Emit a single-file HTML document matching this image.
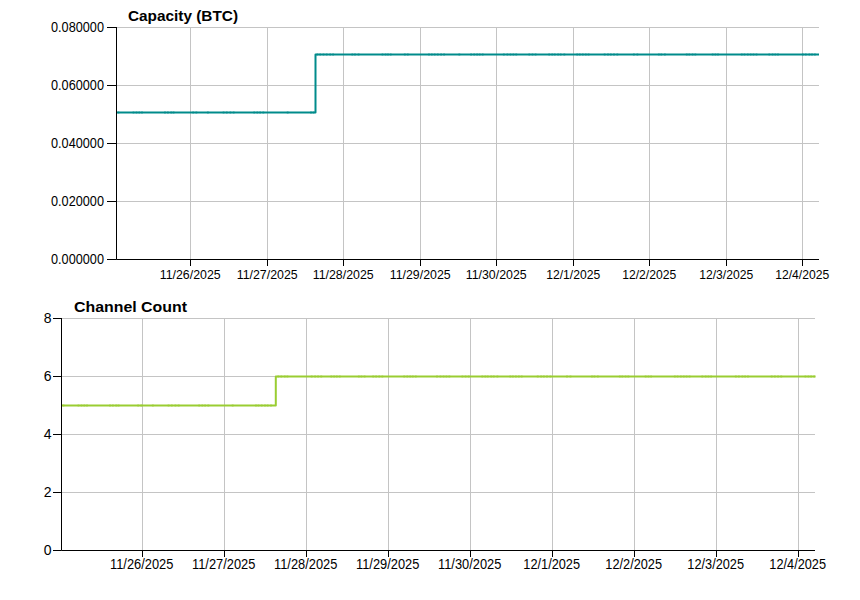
<!DOCTYPE html>
<html><head><meta charset="utf-8"><style>
html,body{margin:0;padding:0;background:#fff;width:860px;height:600px;overflow:hidden}
svg{display:block}
.t{font-family:"Liberation Sans", sans-serif;font-size:13px;fill:#000}
.ty{font-family:"Liberation Sans", sans-serif;font-size:14px;fill:#000}
.h{font-family:"Liberation Sans", sans-serif;font-size:15.5px;font-weight:bold;fill:#000}
</style></head><body>
<svg width="860" height="600" viewBox="0 0 860 600">
<g shape-rendering="crispEdges">
</g>
<path d="M117,27.5H819M117,85.5H819M117,143.5H819M117,201.5H819M190.5,27V259M267.5,27V259M343.5,27V259M420.5,27V259M496.5,27V259M573.5,27V259M649.5,27V259M726.5,27V259M802.5,27V259" stroke="#c4c4c4" stroke-width="1" fill="none"/>
<path d="M116.5,27V259.5H819M107,27.5H116.5M107,85.5H116.5M107,143.5H116.5M107,201.5H116.5M107,259.5H116.5M190.5,260V266M267.5,260V266M343.5,260V266M420.5,260V266M496.5,260V266M573.5,260V266M649.5,260V266M726.5,260V266M802.5,260V266" stroke="#000" stroke-width="1" fill="none"/>
<text x="104" y="32" text-anchor="end" class="ty" textLength="53" lengthAdjust="spacingAndGlyphs">0.080000</text>
<text x="104" y="90" text-anchor="end" class="ty" textLength="53" lengthAdjust="spacingAndGlyphs">0.060000</text>
<text x="104" y="148" text-anchor="end" class="ty" textLength="53" lengthAdjust="spacingAndGlyphs">0.040000</text>
<text x="104" y="206" text-anchor="end" class="ty" textLength="53" lengthAdjust="spacingAndGlyphs">0.020000</text>
<text x="104" y="264" text-anchor="end" class="ty" textLength="53" lengthAdjust="spacingAndGlyphs">0.000000</text>
<text x="190.2" y="279" text-anchor="middle" class="t" style="font-size:13px" textLength="60.9" lengthAdjust="spacingAndGlyphs">11/26/2025</text>
<text x="267.2" y="279" text-anchor="middle" class="t" style="font-size:13px" textLength="60.9" lengthAdjust="spacingAndGlyphs">11/27/2025</text>
<text x="343.2" y="279" text-anchor="middle" class="t" style="font-size:13px" textLength="60.9" lengthAdjust="spacingAndGlyphs">11/28/2025</text>
<text x="420.2" y="279" text-anchor="middle" class="t" style="font-size:13px" textLength="60.9" lengthAdjust="spacingAndGlyphs">11/29/2025</text>
<text x="496.2" y="279" text-anchor="middle" class="t" style="font-size:13px" textLength="60.9" lengthAdjust="spacingAndGlyphs">11/30/2025</text>
<text x="573.2" y="279" text-anchor="middle" class="t" style="font-size:13px" textLength="54.0" lengthAdjust="spacingAndGlyphs">12/1/2025</text>
<text x="649.2" y="279" text-anchor="middle" class="t" style="font-size:13px" textLength="54.0" lengthAdjust="spacingAndGlyphs">12/2/2025</text>
<text x="726.2" y="279" text-anchor="middle" class="t" style="font-size:13px" textLength="54.0" lengthAdjust="spacingAndGlyphs">12/3/2025</text>
<text x="802.2" y="279" text-anchor="middle" class="t" style="font-size:13px" textLength="54.0" lengthAdjust="spacingAndGlyphs">12/4/2025</text>
<text x="128" y="21" class="h" textLength="110" lengthAdjust="spacingAndGlyphs">Capacity (BTC)</text>
<path d="M117,112.5 L315.5,112.5 L315.5,54.5 L819,54.5" stroke="#008b8b" stroke-width="2" fill="none" stroke-linejoin="round"/>
<path d="M117.2,112.5a1.2,1.2 0 1,0 2.4,0a1.2,1.2 0 1,0 -2.4,0M132.3,112.5a1.2,1.2 0 1,0 2.4,0a1.2,1.2 0 1,0 -2.4,0M135.3,112.5a1.2,1.2 0 1,0 2.4,0a1.2,1.2 0 1,0 -2.4,0M138.1,112.5a1.2,1.2 0 1,0 2.4,0a1.2,1.2 0 1,0 -2.4,0M140.8,112.5a1.2,1.2 0 1,0 2.4,0a1.2,1.2 0 1,0 -2.4,0M163.8,112.5a1.2,1.2 0 1,0 2.4,0a1.2,1.2 0 1,0 -2.4,0M166.7,112.5a1.2,1.2 0 1,0 2.4,0a1.2,1.2 0 1,0 -2.4,0M170.0,112.5a1.2,1.2 0 1,0 2.4,0a1.2,1.2 0 1,0 -2.4,0M172.4,112.5a1.2,1.2 0 1,0 2.4,0a1.2,1.2 0 1,0 -2.4,0M192.0,112.5a1.2,1.2 0 1,0 2.4,0a1.2,1.2 0 1,0 -2.4,0M195.1,112.5a1.2,1.2 0 1,0 2.4,0a1.2,1.2 0 1,0 -2.4,0M206.7,112.5a1.2,1.2 0 1,0 2.4,0a1.2,1.2 0 1,0 -2.4,0M222.4,112.5a1.2,1.2 0 1,0 2.4,0a1.2,1.2 0 1,0 -2.4,0M225.6,112.5a1.2,1.2 0 1,0 2.4,0a1.2,1.2 0 1,0 -2.4,0M229.2,112.5a1.2,1.2 0 1,0 2.4,0a1.2,1.2 0 1,0 -2.4,0M232.5,112.5a1.2,1.2 0 1,0 2.4,0a1.2,1.2 0 1,0 -2.4,0M253.0,112.5a1.2,1.2 0 1,0 2.4,0a1.2,1.2 0 1,0 -2.4,0M256.1,112.5a1.2,1.2 0 1,0 2.4,0a1.2,1.2 0 1,0 -2.4,0M258.9,112.5a1.2,1.2 0 1,0 2.4,0a1.2,1.2 0 1,0 -2.4,0M262.1,112.5a1.2,1.2 0 1,0 2.4,0a1.2,1.2 0 1,0 -2.4,0M286.5,112.5a1.2,1.2 0 1,0 2.4,0a1.2,1.2 0 1,0 -2.4,0M309.8,112.5a1.2,1.2 0 1,0 2.4,0a1.2,1.2 0 1,0 -2.4,0M312.3,112.5a1.2,1.2 0 1,0 2.4,0a1.2,1.2 0 1,0 -2.4,0M316.2,54.5a1.2,1.2 0 1,0 2.4,0a1.2,1.2 0 1,0 -2.4,0M319.0,54.5a1.2,1.2 0 1,0 2.4,0a1.2,1.2 0 1,0 -2.4,0M322.3,54.5a1.2,1.2 0 1,0 2.4,0a1.2,1.2 0 1,0 -2.4,0M325.5,54.5a1.2,1.2 0 1,0 2.4,0a1.2,1.2 0 1,0 -2.4,0M329.0,54.5a1.2,1.2 0 1,0 2.4,0a1.2,1.2 0 1,0 -2.4,0M331.9,54.5a1.2,1.2 0 1,0 2.4,0a1.2,1.2 0 1,0 -2.4,0M351.1,54.5a1.2,1.2 0 1,0 2.4,0a1.2,1.2 0 1,0 -2.4,0M353.8,54.5a1.2,1.2 0 1,0 2.4,0a1.2,1.2 0 1,0 -2.4,0M357.4,54.5a1.2,1.2 0 1,0 2.4,0a1.2,1.2 0 1,0 -2.4,0M381.3,54.5a1.2,1.2 0 1,0 2.4,0a1.2,1.2 0 1,0 -2.4,0M384.4,54.5a1.2,1.2 0 1,0 2.4,0a1.2,1.2 0 1,0 -2.4,0M386.8,54.5a1.2,1.2 0 1,0 2.4,0a1.2,1.2 0 1,0 -2.4,0M389.5,54.5a1.2,1.2 0 1,0 2.4,0a1.2,1.2 0 1,0 -2.4,0M403.7,54.5a1.2,1.2 0 1,0 2.4,0a1.2,1.2 0 1,0 -2.4,0M406.6,54.5a1.2,1.2 0 1,0 2.4,0a1.2,1.2 0 1,0 -2.4,0M427.8,54.5a1.2,1.2 0 1,0 2.4,0a1.2,1.2 0 1,0 -2.4,0M430.6,54.5a1.2,1.2 0 1,0 2.4,0a1.2,1.2 0 1,0 -2.4,0M433.5,54.5a1.2,1.2 0 1,0 2.4,0a1.2,1.2 0 1,0 -2.4,0M436.6,54.5a1.2,1.2 0 1,0 2.4,0a1.2,1.2 0 1,0 -2.4,0M439.9,54.5a1.2,1.2 0 1,0 2.4,0a1.2,1.2 0 1,0 -2.4,0M442.9,54.5a1.2,1.2 0 1,0 2.4,0a1.2,1.2 0 1,0 -2.4,0M458.1,54.5a1.2,1.2 0 1,0 2.4,0a1.2,1.2 0 1,0 -2.4,0M469.9,54.5a1.2,1.2 0 1,0 2.4,0a1.2,1.2 0 1,0 -2.4,0M473.0,54.5a1.2,1.2 0 1,0 2.4,0a1.2,1.2 0 1,0 -2.4,0M475.9,54.5a1.2,1.2 0 1,0 2.4,0a1.2,1.2 0 1,0 -2.4,0M478.5,54.5a1.2,1.2 0 1,0 2.4,0a1.2,1.2 0 1,0 -2.4,0M481.5,54.5a1.2,1.2 0 1,0 2.4,0a1.2,1.2 0 1,0 -2.4,0M502.7,54.5a1.2,1.2 0 1,0 2.4,0a1.2,1.2 0 1,0 -2.4,0M506.2,54.5a1.2,1.2 0 1,0 2.4,0a1.2,1.2 0 1,0 -2.4,0M509.3,54.5a1.2,1.2 0 1,0 2.4,0a1.2,1.2 0 1,0 -2.4,0M512.2,54.5a1.2,1.2 0 1,0 2.4,0a1.2,1.2 0 1,0 -2.4,0M515.0,54.5a1.2,1.2 0 1,0 2.4,0a1.2,1.2 0 1,0 -2.4,0M528.1,54.5a1.2,1.2 0 1,0 2.4,0a1.2,1.2 0 1,0 -2.4,0M531.3,54.5a1.2,1.2 0 1,0 2.4,0a1.2,1.2 0 1,0 -2.4,0M534.4,54.5a1.2,1.2 0 1,0 2.4,0a1.2,1.2 0 1,0 -2.4,0M548.0,54.5a1.2,1.2 0 1,0 2.4,0a1.2,1.2 0 1,0 -2.4,0M551.0,54.5a1.2,1.2 0 1,0 2.4,0a1.2,1.2 0 1,0 -2.4,0M553.6,54.5a1.2,1.2 0 1,0 2.4,0a1.2,1.2 0 1,0 -2.4,0M556.9,54.5a1.2,1.2 0 1,0 2.4,0a1.2,1.2 0 1,0 -2.4,0M559.5,54.5a1.2,1.2 0 1,0 2.4,0a1.2,1.2 0 1,0 -2.4,0M563.1,54.5a1.2,1.2 0 1,0 2.4,0a1.2,1.2 0 1,0 -2.4,0M576.0,54.5a1.2,1.2 0 1,0 2.4,0a1.2,1.2 0 1,0 -2.4,0M578.6,54.5a1.2,1.2 0 1,0 2.4,0a1.2,1.2 0 1,0 -2.4,0M581.6,54.5a1.2,1.2 0 1,0 2.4,0a1.2,1.2 0 1,0 -2.4,0M584.6,54.5a1.2,1.2 0 1,0 2.4,0a1.2,1.2 0 1,0 -2.4,0M587.4,54.5a1.2,1.2 0 1,0 2.4,0a1.2,1.2 0 1,0 -2.4,0M603.5,54.5a1.2,1.2 0 1,0 2.4,0a1.2,1.2 0 1,0 -2.4,0M606.8,54.5a1.2,1.2 0 1,0 2.4,0a1.2,1.2 0 1,0 -2.4,0M609.6,54.5a1.2,1.2 0 1,0 2.4,0a1.2,1.2 0 1,0 -2.4,0M612.8,54.5a1.2,1.2 0 1,0 2.4,0a1.2,1.2 0 1,0 -2.4,0M616.1,54.5a1.2,1.2 0 1,0 2.4,0a1.2,1.2 0 1,0 -2.4,0M632.7,54.5a1.2,1.2 0 1,0 2.4,0a1.2,1.2 0 1,0 -2.4,0M636.2,54.5a1.2,1.2 0 1,0 2.4,0a1.2,1.2 0 1,0 -2.4,0M657.7,54.5a1.2,1.2 0 1,0 2.4,0a1.2,1.2 0 1,0 -2.4,0M660.1,54.5a1.2,1.2 0 1,0 2.4,0a1.2,1.2 0 1,0 -2.4,0M663.7,54.5a1.2,1.2 0 1,0 2.4,0a1.2,1.2 0 1,0 -2.4,0M685.6,54.5a1.2,1.2 0 1,0 2.4,0a1.2,1.2 0 1,0 -2.4,0M688.1,54.5a1.2,1.2 0 1,0 2.4,0a1.2,1.2 0 1,0 -2.4,0M691.4,54.5a1.2,1.2 0 1,0 2.4,0a1.2,1.2 0 1,0 -2.4,0M694.1,54.5a1.2,1.2 0 1,0 2.4,0a1.2,1.2 0 1,0 -2.4,0M711.5,54.5a1.2,1.2 0 1,0 2.4,0a1.2,1.2 0 1,0 -2.4,0M714.2,54.5a1.2,1.2 0 1,0 2.4,0a1.2,1.2 0 1,0 -2.4,0M716.8,54.5a1.2,1.2 0 1,0 2.4,0a1.2,1.2 0 1,0 -2.4,0M740.6,54.5a1.2,1.2 0 1,0 2.4,0a1.2,1.2 0 1,0 -2.4,0M743.3,54.5a1.2,1.2 0 1,0 2.4,0a1.2,1.2 0 1,0 -2.4,0M746.6,54.5a1.2,1.2 0 1,0 2.4,0a1.2,1.2 0 1,0 -2.4,0M749.5,54.5a1.2,1.2 0 1,0 2.4,0a1.2,1.2 0 1,0 -2.4,0M752.3,54.5a1.2,1.2 0 1,0 2.4,0a1.2,1.2 0 1,0 -2.4,0M755.3,54.5a1.2,1.2 0 1,0 2.4,0a1.2,1.2 0 1,0 -2.4,0M768.1,54.5a1.2,1.2 0 1,0 2.4,0a1.2,1.2 0 1,0 -2.4,0M771.4,54.5a1.2,1.2 0 1,0 2.4,0a1.2,1.2 0 1,0 -2.4,0M774.1,54.5a1.2,1.2 0 1,0 2.4,0a1.2,1.2 0 1,0 -2.4,0M776.8,54.5a1.2,1.2 0 1,0 2.4,0a1.2,1.2 0 1,0 -2.4,0M801.7,54.5a1.2,1.2 0 1,0 2.4,0a1.2,1.2 0 1,0 -2.4,0M804.6,54.5a1.2,1.2 0 1,0 2.4,0a1.2,1.2 0 1,0 -2.4,0M808.2,54.5a1.2,1.2 0 1,0 2.4,0a1.2,1.2 0 1,0 -2.4,0M810.8,54.5a1.2,1.2 0 1,0 2.4,0a1.2,1.2 0 1,0 -2.4,0M813.7,54.5a1.2,1.2 0 1,0 2.4,0a1.2,1.2 0 1,0 -2.4,0" fill="#008b8b" fill-opacity="0.5"/>
<path d="M62,318.5H815M62,376.5H815M62,434.5H815M62,492.5H815M142.5,318V550M224.5,318V550M306.5,318V550M388.5,318V550M470.5,318V550M552.5,318V550M634.5,318V550M716.5,318V550M798.5,318V550" stroke="#c4c4c4" stroke-width="1" fill="none"/>
<path d="M61.5,318V550.5H815M53,318.5H61.5M53,376.5H61.5M53,434.5H61.5M53,492.5H61.5M53,550.5H61.5M142.5,551V557M224.5,551V557M306.5,551V557M388.5,551V557M470.5,551V557M552.5,551V557M634.5,551V557M716.5,551V557M798.5,551V557" stroke="#000" stroke-width="1" fill="none"/>
<text x="51.5" y="323" text-anchor="end" class="ty">8</text>
<text x="51.5" y="381" text-anchor="end" class="ty">6</text>
<text x="51.5" y="439" text-anchor="end" class="ty">4</text>
<text x="51.5" y="497" text-anchor="end" class="ty">2</text>
<text x="51.5" y="555" text-anchor="end" class="ty">0</text>
<text x="141.7" y="568.8" text-anchor="middle" class="t" style="font-size:14px" textLength="63.3" lengthAdjust="spacingAndGlyphs">11/26/2025</text>
<text x="223.7" y="568.8" text-anchor="middle" class="t" style="font-size:14px" textLength="63.3" lengthAdjust="spacingAndGlyphs">11/27/2025</text>
<text x="305.7" y="568.8" text-anchor="middle" class="t" style="font-size:14px" textLength="63.3" lengthAdjust="spacingAndGlyphs">11/28/2025</text>
<text x="387.7" y="568.8" text-anchor="middle" class="t" style="font-size:14px" textLength="63.3" lengthAdjust="spacingAndGlyphs">11/29/2025</text>
<text x="469.7" y="568.8" text-anchor="middle" class="t" style="font-size:14px" textLength="63.3" lengthAdjust="spacingAndGlyphs">11/30/2025</text>
<text x="551.7" y="568.8" text-anchor="middle" class="t" style="font-size:14px" textLength="56.7" lengthAdjust="spacingAndGlyphs">12/1/2025</text>
<text x="633.7" y="568.8" text-anchor="middle" class="t" style="font-size:14px" textLength="56.7" lengthAdjust="spacingAndGlyphs">12/2/2025</text>
<text x="715.7" y="568.8" text-anchor="middle" class="t" style="font-size:14px" textLength="56.7" lengthAdjust="spacingAndGlyphs">12/3/2025</text>
<text x="797.7" y="568.8" text-anchor="middle" class="t" style="font-size:14px" textLength="56.7" lengthAdjust="spacingAndGlyphs">12/4/2025</text>
<text x="74" y="312" class="h" textLength="113" lengthAdjust="spacingAndGlyphs">Channel Count</text>
<path d="M62,405.5 L275.8,405.5 L275.8,376.5 L815.5,376.5" stroke="#9acd32" stroke-width="2" fill="none" stroke-linejoin="round"/>
<path d="M62.2,405.5a1.2,1.2 0 1,0 2.4,0a1.2,1.2 0 1,0 -2.4,0M77.3,405.5a1.2,1.2 0 1,0 2.4,0a1.2,1.2 0 1,0 -2.4,0M80.3,405.5a1.2,1.2 0 1,0 2.4,0a1.2,1.2 0 1,0 -2.4,0M83.1,405.5a1.2,1.2 0 1,0 2.4,0a1.2,1.2 0 1,0 -2.4,0M85.8,405.5a1.2,1.2 0 1,0 2.4,0a1.2,1.2 0 1,0 -2.4,0M108.8,405.5a1.2,1.2 0 1,0 2.4,0a1.2,1.2 0 1,0 -2.4,0M111.7,405.5a1.2,1.2 0 1,0 2.4,0a1.2,1.2 0 1,0 -2.4,0M115.0,405.5a1.2,1.2 0 1,0 2.4,0a1.2,1.2 0 1,0 -2.4,0M117.4,405.5a1.2,1.2 0 1,0 2.4,0a1.2,1.2 0 1,0 -2.4,0M137.0,405.5a1.2,1.2 0 1,0 2.4,0a1.2,1.2 0 1,0 -2.4,0M140.1,405.5a1.2,1.2 0 1,0 2.4,0a1.2,1.2 0 1,0 -2.4,0M151.7,405.5a1.2,1.2 0 1,0 2.4,0a1.2,1.2 0 1,0 -2.4,0M167.4,405.5a1.2,1.2 0 1,0 2.4,0a1.2,1.2 0 1,0 -2.4,0M170.6,405.5a1.2,1.2 0 1,0 2.4,0a1.2,1.2 0 1,0 -2.4,0M174.2,405.5a1.2,1.2 0 1,0 2.4,0a1.2,1.2 0 1,0 -2.4,0M177.5,405.5a1.2,1.2 0 1,0 2.4,0a1.2,1.2 0 1,0 -2.4,0M198.0,405.5a1.2,1.2 0 1,0 2.4,0a1.2,1.2 0 1,0 -2.4,0M201.1,405.5a1.2,1.2 0 1,0 2.4,0a1.2,1.2 0 1,0 -2.4,0M203.9,405.5a1.2,1.2 0 1,0 2.4,0a1.2,1.2 0 1,0 -2.4,0M207.1,405.5a1.2,1.2 0 1,0 2.4,0a1.2,1.2 0 1,0 -2.4,0M231.5,405.5a1.2,1.2 0 1,0 2.4,0a1.2,1.2 0 1,0 -2.4,0M254.8,405.5a1.2,1.2 0 1,0 2.4,0a1.2,1.2 0 1,0 -2.4,0M257.3,405.5a1.2,1.2 0 1,0 2.4,0a1.2,1.2 0 1,0 -2.4,0M260.5,405.5a1.2,1.2 0 1,0 2.4,0a1.2,1.2 0 1,0 -2.4,0M263.8,405.5a1.2,1.2 0 1,0 2.4,0a1.2,1.2 0 1,0 -2.4,0M266.5,405.5a1.2,1.2 0 1,0 2.4,0a1.2,1.2 0 1,0 -2.4,0M269.8,405.5a1.2,1.2 0 1,0 2.4,0a1.2,1.2 0 1,0 -2.4,0M277.1,376.5a1.2,1.2 0 1,0 2.4,0a1.2,1.2 0 1,0 -2.4,0M280.1,376.5a1.2,1.2 0 1,0 2.4,0a1.2,1.2 0 1,0 -2.4,0M283.6,376.5a1.2,1.2 0 1,0 2.4,0a1.2,1.2 0 1,0 -2.4,0M286.2,376.5a1.2,1.2 0 1,0 2.4,0a1.2,1.2 0 1,0 -2.4,0M310.5,376.5a1.2,1.2 0 1,0 2.4,0a1.2,1.2 0 1,0 -2.4,0M313.9,376.5a1.2,1.2 0 1,0 2.4,0a1.2,1.2 0 1,0 -2.4,0M316.9,376.5a1.2,1.2 0 1,0 2.4,0a1.2,1.2 0 1,0 -2.4,0M320.0,376.5a1.2,1.2 0 1,0 2.4,0a1.2,1.2 0 1,0 -2.4,0M330.1,376.5a1.2,1.2 0 1,0 2.4,0a1.2,1.2 0 1,0 -2.4,0M332.9,376.5a1.2,1.2 0 1,0 2.4,0a1.2,1.2 0 1,0 -2.4,0M335.6,376.5a1.2,1.2 0 1,0 2.4,0a1.2,1.2 0 1,0 -2.4,0M338.6,376.5a1.2,1.2 0 1,0 2.4,0a1.2,1.2 0 1,0 -2.4,0M357.7,376.5a1.2,1.2 0 1,0 2.4,0a1.2,1.2 0 1,0 -2.4,0M360.2,376.5a1.2,1.2 0 1,0 2.4,0a1.2,1.2 0 1,0 -2.4,0M363.4,376.5a1.2,1.2 0 1,0 2.4,0a1.2,1.2 0 1,0 -2.4,0M372.0,376.5a1.2,1.2 0 1,0 2.4,0a1.2,1.2 0 1,0 -2.4,0M374.9,376.5a1.2,1.2 0 1,0 2.4,0a1.2,1.2 0 1,0 -2.4,0M378.1,376.5a1.2,1.2 0 1,0 2.4,0a1.2,1.2 0 1,0 -2.4,0M381.1,376.5a1.2,1.2 0 1,0 2.4,0a1.2,1.2 0 1,0 -2.4,0M403.0,376.5a1.2,1.2 0 1,0 2.4,0a1.2,1.2 0 1,0 -2.4,0M406.1,376.5a1.2,1.2 0 1,0 2.4,0a1.2,1.2 0 1,0 -2.4,0M409.0,376.5a1.2,1.2 0 1,0 2.4,0a1.2,1.2 0 1,0 -2.4,0M411.6,376.5a1.2,1.2 0 1,0 2.4,0a1.2,1.2 0 1,0 -2.4,0M414.6,376.5a1.2,1.2 0 1,0 2.4,0a1.2,1.2 0 1,0 -2.4,0M435.8,376.5a1.2,1.2 0 1,0 2.4,0a1.2,1.2 0 1,0 -2.4,0M439.3,376.5a1.2,1.2 0 1,0 2.4,0a1.2,1.2 0 1,0 -2.4,0M442.4,376.5a1.2,1.2 0 1,0 2.4,0a1.2,1.2 0 1,0 -2.4,0M445.2,376.5a1.2,1.2 0 1,0 2.4,0a1.2,1.2 0 1,0 -2.4,0M448.1,376.5a1.2,1.2 0 1,0 2.4,0a1.2,1.2 0 1,0 -2.4,0M461.2,376.5a1.2,1.2 0 1,0 2.4,0a1.2,1.2 0 1,0 -2.4,0M464.4,376.5a1.2,1.2 0 1,0 2.4,0a1.2,1.2 0 1,0 -2.4,0M467.5,376.5a1.2,1.2 0 1,0 2.4,0a1.2,1.2 0 1,0 -2.4,0M481.1,376.5a1.2,1.2 0 1,0 2.4,0a1.2,1.2 0 1,0 -2.4,0M484.1,376.5a1.2,1.2 0 1,0 2.4,0a1.2,1.2 0 1,0 -2.4,0M486.6,376.5a1.2,1.2 0 1,0 2.4,0a1.2,1.2 0 1,0 -2.4,0M490.0,376.5a1.2,1.2 0 1,0 2.4,0a1.2,1.2 0 1,0 -2.4,0M492.6,376.5a1.2,1.2 0 1,0 2.4,0a1.2,1.2 0 1,0 -2.4,0M496.2,376.5a1.2,1.2 0 1,0 2.4,0a1.2,1.2 0 1,0 -2.4,0M509.1,376.5a1.2,1.2 0 1,0 2.4,0a1.2,1.2 0 1,0 -2.4,0M511.7,376.5a1.2,1.2 0 1,0 2.4,0a1.2,1.2 0 1,0 -2.4,0M514.7,376.5a1.2,1.2 0 1,0 2.4,0a1.2,1.2 0 1,0 -2.4,0M517.7,376.5a1.2,1.2 0 1,0 2.4,0a1.2,1.2 0 1,0 -2.4,0M520.5,376.5a1.2,1.2 0 1,0 2.4,0a1.2,1.2 0 1,0 -2.4,0M536.6,376.5a1.2,1.2 0 1,0 2.4,0a1.2,1.2 0 1,0 -2.4,0M539.9,376.5a1.2,1.2 0 1,0 2.4,0a1.2,1.2 0 1,0 -2.4,0M542.7,376.5a1.2,1.2 0 1,0 2.4,0a1.2,1.2 0 1,0 -2.4,0M545.8,376.5a1.2,1.2 0 1,0 2.4,0a1.2,1.2 0 1,0 -2.4,0M549.2,376.5a1.2,1.2 0 1,0 2.4,0a1.2,1.2 0 1,0 -2.4,0M565.8,376.5a1.2,1.2 0 1,0 2.4,0a1.2,1.2 0 1,0 -2.4,0M569.3,376.5a1.2,1.2 0 1,0 2.4,0a1.2,1.2 0 1,0 -2.4,0M590.8,376.5a1.2,1.2 0 1,0 2.4,0a1.2,1.2 0 1,0 -2.4,0M593.2,376.5a1.2,1.2 0 1,0 2.4,0a1.2,1.2 0 1,0 -2.4,0M596.7,376.5a1.2,1.2 0 1,0 2.4,0a1.2,1.2 0 1,0 -2.4,0M618.7,376.5a1.2,1.2 0 1,0 2.4,0a1.2,1.2 0 1,0 -2.4,0M621.1,376.5a1.2,1.2 0 1,0 2.4,0a1.2,1.2 0 1,0 -2.4,0M624.4,376.5a1.2,1.2 0 1,0 2.4,0a1.2,1.2 0 1,0 -2.4,0M627.1,376.5a1.2,1.2 0 1,0 2.4,0a1.2,1.2 0 1,0 -2.4,0M644.5,376.5a1.2,1.2 0 1,0 2.4,0a1.2,1.2 0 1,0 -2.4,0M647.3,376.5a1.2,1.2 0 1,0 2.4,0a1.2,1.2 0 1,0 -2.4,0M649.9,376.5a1.2,1.2 0 1,0 2.4,0a1.2,1.2 0 1,0 -2.4,0M673.7,376.5a1.2,1.2 0 1,0 2.4,0a1.2,1.2 0 1,0 -2.4,0M676.4,376.5a1.2,1.2 0 1,0 2.4,0a1.2,1.2 0 1,0 -2.4,0M679.7,376.5a1.2,1.2 0 1,0 2.4,0a1.2,1.2 0 1,0 -2.4,0M682.6,376.5a1.2,1.2 0 1,0 2.4,0a1.2,1.2 0 1,0 -2.4,0M685.4,376.5a1.2,1.2 0 1,0 2.4,0a1.2,1.2 0 1,0 -2.4,0M688.4,376.5a1.2,1.2 0 1,0 2.4,0a1.2,1.2 0 1,0 -2.4,0M701.1,376.5a1.2,1.2 0 1,0 2.4,0a1.2,1.2 0 1,0 -2.4,0M704.5,376.5a1.2,1.2 0 1,0 2.4,0a1.2,1.2 0 1,0 -2.4,0M707.2,376.5a1.2,1.2 0 1,0 2.4,0a1.2,1.2 0 1,0 -2.4,0M709.9,376.5a1.2,1.2 0 1,0 2.4,0a1.2,1.2 0 1,0 -2.4,0M734.7,376.5a1.2,1.2 0 1,0 2.4,0a1.2,1.2 0 1,0 -2.4,0M737.7,376.5a1.2,1.2 0 1,0 2.4,0a1.2,1.2 0 1,0 -2.4,0M741.2,376.5a1.2,1.2 0 1,0 2.4,0a1.2,1.2 0 1,0 -2.4,0M743.9,376.5a1.2,1.2 0 1,0 2.4,0a1.2,1.2 0 1,0 -2.4,0M746.8,376.5a1.2,1.2 0 1,0 2.4,0a1.2,1.2 0 1,0 -2.4,0M770.5,376.5a1.2,1.2 0 1,0 2.4,0a1.2,1.2 0 1,0 -2.4,0M773.7,376.5a1.2,1.2 0 1,0 2.4,0a1.2,1.2 0 1,0 -2.4,0M776.9,376.5a1.2,1.2 0 1,0 2.4,0a1.2,1.2 0 1,0 -2.4,0M780.0,376.5a1.2,1.2 0 1,0 2.4,0a1.2,1.2 0 1,0 -2.4,0M804.2,376.5a1.2,1.2 0 1,0 2.4,0a1.2,1.2 0 1,0 -2.4,0M807.2,376.5a1.2,1.2 0 1,0 2.4,0a1.2,1.2 0 1,0 -2.4,0M809.9,376.5a1.2,1.2 0 1,0 2.4,0a1.2,1.2 0 1,0 -2.4,0M813.0,376.5a1.2,1.2 0 1,0 2.4,0a1.2,1.2 0 1,0 -2.4,0" fill="#9acd32" fill-opacity="0.5"/>
</svg>
</body></html>
